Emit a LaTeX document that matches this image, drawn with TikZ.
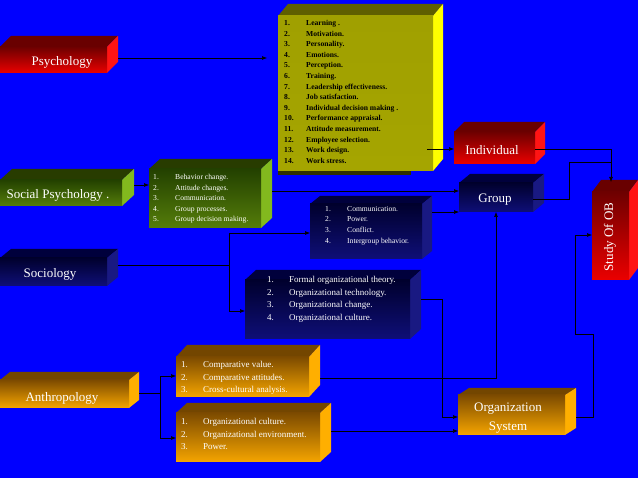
\documentclass[tikz,border=0pt]{standalone}
\usepackage{fontspec}
\setmainfont{Liberation Serif}
\usetikzlibrary{arrows.meta}
\definecolor{bg}{RGB}{0,0,255}
\definecolor{redA}{RGB}{110,0,0}\definecolor{redB}{RGB}{235,0,0}\definecolor{redT}{RGB}{105,0,0}\definecolor{redR}{RGB}{255,20,20}
\definecolor{yelA}{RGB}{160,160,0}\definecolor{yelB}{RGB}{165,165,0}\definecolor{yelT}{RGB}{95,95,0}\definecolor{yelR}{RGB}{255,255,0}
\definecolor{grnA}{RGB}{35,65,0}\definecolor{grnB}{RGB}{85,125,10}\definecolor{grnT}{RGB}{40,60,0}\definecolor{grnR}{RGB}{130,185,30}
\definecolor{navA}{RGB}{0,0,45}\definecolor{navB}{RGB}{15,15,120}\definecolor{navT}{RGB}{0,0,60}\definecolor{navR}{RGB}{25,25,130}
\definecolor{orgA}{RGB}{125,75,0}\definecolor{orgB}{RGB}{245,165,0}\definecolor{orgT}{RGB}{115,70,0}\definecolor{orgR}{RGB}{255,175,0}
\newcommand\obbox[8]{%
  \fill[#8T] (#2,#3) -- ({#2+#6},{#3-#7}) -- ({#4+#6},{#3-#7}) -- (#4,#3) -- cycle;
  \fill[#8R] (#4,#3) -- ({#4+#6},{#3-#7}) -- ({#4+#6},{#5-#7}) -- (#4,#5) -- cycle;
  \node[inner sep=0pt, outer sep=0pt, anchor=north west, top color=#8A, bottom color=#8B,
        minimum width={(#4-#2)*1pt}, minimum height={(#5-#3)*1pt}] (#1) at (#2,#3) {};}
\newcommand\li[2]{\makebox[22pt][l]{#1}#2\\}
\tikzset{
  lbl/.style={text=white, font=\fontsize{13}{15}\selectfont},
  lst/.style={text=white, anchor=north west, align=left, inner sep=0pt, font=\fontsize{7.6}{10.6}\selectfont},
  arr/.style={draw=black, line width=0.6pt, -{Latex[length=5pt,width=4pt]}},
  ln/.style={draw=black, line width=0.6pt}
}
\begin{document}
\begin{tikzpicture}[x=1pt,y=-1pt]
\fill[bg] (0,0) rectangle (638,478);
\useasboundingbox (0,0) rectangle (638,478);
% boxes
\obbox{psy}{0}{47}{107}{73}{11}{11}{red}
\fill[black!70!yelA] (278,171) rectangle (411,175);
\obbox{yel}{278}{16}{433}{171}{10}{12}{yel}
\obbox{ind}{454}{132}{535}{164}{10}{10}{red}
\obbox{grp}{459}{183}{533}{212}{11}{9}{nav}
\obbox{sob}{592}{192}{629}{280}{9}{12}{red}
\obbox{soc}{0}{180}{122}{206}{12}{11}{grn}
\obbox{gl}{149}{169}{261}{228}{11}{10}{grn}
\obbox{cm}{310}{204}{422}{259}{10}{8}{nav}
\obbox{sci}{0}{258}{107}{286}{11}{9}{nav}
\obbox{ot}{245}{280}{410}{339}{11}{10}{nav}
\obbox{ant}{0}{380}{129}{408}{10}{8}{org}
\obbox{cv}{176}{357}{309}{397}{11}{12}{org}
\obbox{oc}{176}{413}{320}{462}{11}{10}{org}
\obbox{os}{458}{395}{565}{435}{11}{7}{org}
% labels
\node[lbl] at (62,62) {Psychology};
\node[lbl] at (492,150) {Individual};
\node[lbl] at (495,200) {Group};
\node[lbl, rotate=90] at (610,237) {Study Of OB};
\node[lbl] at (58,195) {Social Psychology .};
\node[lbl] at (50,274) {Sociology};
\node[lbl] at (62,398) {Anthropology};
\node[lbl, align=center, font=\fontsize{13}{19}\selectfont] at (508,418) {Organization\\System};
% lists
\node[lst, text=black, font=\bfseries\fontsize{7.6}{10.6}\selectfont] (yt) at (284,20) {%
\li{1.}{Learning .}\li{2.}{Motivation.}\li{3.}{Personality.}\li{4.}{Emotions.}\li{5.}{Perception.}%
\li{6.}{Training.}\li{7.}{Leadership effectiveness.}\li{8.}{Job satisfaction.}\li{9.}{Individual decision making .}%
\li{10.}{Performance appraisal.}\li{11.}{Attitude measurement.}\li{12.}{Employee selection.}\li{13.}{Work design.}\li{14.}{Work stress.}};
\node[lst] (gt) at (153,174) {%
\li{1.}{Behavior change.}\li{2.}{Attitude changes.}\li{3.}{Communication.}\li{4.}{Group processes.}\li{5.}{Group decision making.}};
\node[lst] (ct) at (325,206) {%
\li{1.}{Communication.}\li{2.}{Power.}\li{3.}{Conflict.}\li{4.}{Intergroup behavior.}};
\node[lst, font=\fontsize{9}{12.6}\selectfont] (ott) at (267,276) {%
\li{1.}{Formal organizational theory.}\li{2.}{Organizational technology.}\li{3.}{Organizational change.}\li{4.}{Organizational culture.}};
\node[lst, font=\fontsize{9}{12.6}\selectfont] (cvt) at (181,361) {%
\li{1.}{Comparative value.}\li{2.}{Comparative attitudes.}\li{3.}{Cross-cultural analysis.}};
\node[lst, font=\fontsize{9}{12.6}\selectfont] (oct) at (181,418) {%
\li{1.}{Organizational culture.}\li{2.}{Organizational environment.}\li{3.}{Power.}};
% connectors
\draw[arr] (118,58) -- (267,58);
\draw[arr] (427,149) -- (ind.west |- 0,149);
\draw[arr] (ind.east |- 0,149) -- (611,149) -- (611,182);
\draw[ln] (grp.east |- 0,199) -- (569,199) -- (569,162) -- (611,162);
\draw[arr] (134,185) -- (gl.west |- 0,185);
\draw[arr] (272,191) -- (grp.west |- 0,191);
\draw[arr] (432,212) -- (grp.west |- 0,212);
\coordinate (sj) at (229,265);
\draw[ln] (118,265) -- (sj);
\draw[arr] (sj) -- (229,233) -- (cm.west |- 0,233);
\draw[arr] (sj) -- (229,311) -- (ot.west |- 0,311);
\draw[arr] (421,299) -- (442,299) -- (442,417) -- (os.west |- 0,417);
\draw[arr] (320,378) -- (496,378) -- (grp.south -| 496,0);
\coordinate (aj) at (160,393);
\draw[ln] (139,393) -- (aj);
\draw[arr] (aj) -- (160,376) -- (cv.west |- 0,376);
\draw[arr] (aj) -- (160,438) -- (oc.west |- 0,438);
\draw[arr] (331,431) -- (os.west |- 0,431);
\draw[arr] (576,417) -- (593,417) -- (593,334) -- (575,334) -- (575,235) -- (sob.west |- 0,235);
\end{tikzpicture}
\end{document}
